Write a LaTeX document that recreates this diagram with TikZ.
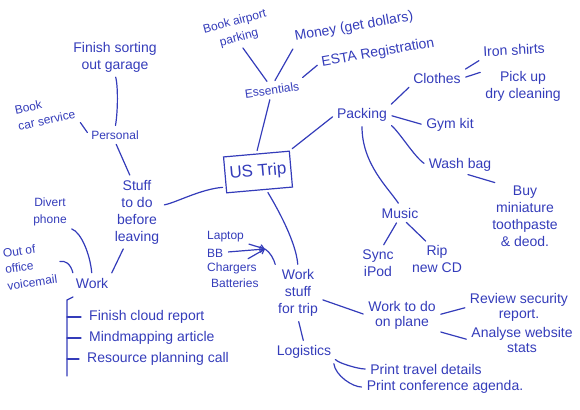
\documentclass[tikz,border=0pt]{standalone}
\usepackage{fontspec}
\setmainfont{Liberation Sans}
\usetikzlibrary{arrows.meta, positioning}
\definecolor{penna}{RGB}{52,60,186}

\begin{document}
\begin{tikzpicture}[
  x=1pt, y=-1pt,
  every node/.style={text=penna, inner sep=2pt, align=center},
  grande/.style={font=\fontsize{14}{17}\selectfont},
  stretto/.style={font=\fontsize{14}{15}\selectfont},
  medio/.style={font=\fontsize{12}{16.5}\selectfont},
  riquadro/.style={draw=penna, line width=1.2pt, minimum width=66pt, minimum height=36pt,
                   font=\fontsize{17}{20}\selectfont},
  ramo/.style={draw=penna, line width=1.2pt, line cap=round, shorten <=3pt, shorten >=3pt},
  freccia/.style={ramo, -{Straight Barb[length=4pt,width=6pt]}}
]
\useasboundingbox (0,0) rectangle (580,409);

\node[riquadro, rotate=5] (ustrip) at (258,172) {US Trip};

\node[medio, rotate=8]  (essentials)  at (272,90) {Essentials};
\node[medio, rotate=15] (bookparking) at (237,30) {Book airport\\parking};
\node[grande, rotate=10] (money)      at (354,27) {Money (get dollars)};
\node[grande, rotate=10] (esta)       at (378,53) {ESTA Registration};

\node[grande] (packing)   at (362,115) {Packing};
\node[grande] (clothes)   at (437,78)  {Clothes};
\node[grande, rotate=3] (ironshirts) at (514,50) {Iron shirts};
\node[grande] (pickup)    at (523,86)  {Pick up\\dry cleaning};
\node[grande] (gymkit)    at (450,125) {Gym kit};
\node[grande] (washbag)   at (460,165) {Wash bag};
\node[grande] (buy)       at (525,216) {Buy\\miniature\\toothpaste\\\& deod.};
\node[grande] (music)     at (400,213) {Music};
\node[grande] (sync)      at (378,263) {Sync\\iPod};
\node[grande] (rip)       at (437,259) {Rip\\new CD};

\node[grande] (stuff)     at (137,212) {Stuff\\to do\\before\\leaving};
\node[medio]  (personal)  at (115,135) {Personal};
\node[grande] (garage)    at (115,57)  {Finish sorting\\out garage};
\node[medio, rotate=12, align=left] (bookcar) at (45,112) {Book\\car service};
\node[grande] (work)      at (92,283)  {Work};
\node[medio]  (divert)    at (50,212)  {Divert\\phone};
\node[medio, rotate=8, align=left] (outofoffice) at (30,266) {Out of\\office\\voicemail};

\coordinate (parentesi) at (67,300);
\coordinate (parentesifondo) at (67,376);
\node[grande, anchor=west] (cloudreport)  at (87,317) {Finish cloud report};
\node[grande, anchor=west] (mindmapping)  at (87,338) {Mindmapping article};
\node[grande, anchor=west] (resourcecall) at (85,359) {Resource planning call};

\node[medio, anchor=west] (laptop)    at (205,237) {Laptop};
\node[medio, anchor=west] (bb)        at (205,253) {BB};
\node[medio, anchor=west] (chargers)  at (205,268) {Chargers};
\node[medio, anchor=west] (batteries) at (209,283) {Batteries};
\coordinate (punta) at (265,249);

\node[grande]  (workstuff)   at (298,293) {Work\\stuff\\for trip};
\node[grande]  (logistics)   at (304,352) {Logistics};
\node[stretto] (workplane)   at (402,315) {Work to do\\on plane};
\node[stretto] (review)      at (519,307) {Review security\\report.};
\node[stretto] (analyse)     at (522,340) {Analyse website\\stats};
\node[grande]  (printtravel) at (426,369) {Print travel details};
\node[grande]  (printconf)   at (445,387) {Print conference agenda.};

\draw[ramo] (ustrip.north) -- (essentials.250);
\draw[ramo] (essentials.110) -- (bookparking.south);
\draw[ramo] (essentials.70) -- (money.south west);
\draw[ramo] (essentials.north east) -- (esta.west);

\draw[ramo] (ustrip.north east) -- (packing.west);
\draw[ramo] (packing.north east) -- (clothes.south west);
\draw[ramo] (clothes.north east) -- (ironshirts.south west);
\draw[ramo] (clothes.east) -- (pickup.160);
\draw[ramo] (packing.east) -- (gymkit.west);
\draw[ramo] (packing.south east) .. controls +(10,8) and +(-12,-8) .. (washbag.west);
\draw[ramo] (washbag.300) -- (buy.130);
\draw[ramo] (packing.south) .. controls +(0,40) and +(-12,-18) .. (music.north);
\draw[ramo] (music.255) -- (sync.75);
\draw[ramo] (music.300) -- (rip.120);

\draw[ramo] (ustrip.200) .. controls +(-25,2) and +(15,-3) .. (stuff.15);
\draw[ramo] (stuff.100) -- (personal.south);
\draw[ramo] (personal.north) .. controls +(3,-18) and +(3,12) .. (garage.south);
\draw[ramo] (personal.west) -- (bookcar.south east);
\draw[ramo] (stuff.250) -- (work.north east);
\draw[ramo] (work.north) .. controls +(-2,-22) and +(12,4) .. (divert.south east);
\draw[ramo] (work.north west) .. controls +(-3,-12) and +(8,-2) .. (outofoffice.east);

\draw[ramo, shorten <=0pt, shorten >=0pt] ([shift={(6,-3)}]parentesi) -- (parentesi) -- (parentesifondo);
\foreach \riga in {cloudreport, mindmapping, resourcecall}
  \draw[ramo, shorten <=0pt, shorten >=6pt] (\riga.west -| parentesi) -- (\riga.west);

\foreach \da in {laptop, bb, chargers}
  \draw[freccia, shorten >=0pt] (\da) -- (punta);
\draw[ramo, shorten <=0pt] (punta) .. controls +(5,3) and +(-2,-8) .. (workstuff.north west);

\draw[ramo] (ustrip.290) .. controls +(12,20) and +(-2,-25) .. (workstuff.north);
\draw[ramo] (workstuff.south) -- (logistics.north);
\draw[ramo] (workstuff.-15) -- (workplane.west);
\draw[ramo] (workplane.east) -- (review.west);
\draw[ramo] (workplane.south east) -- (analyse.west);
\draw[ramo] (logistics.-10) .. controls +(5,6) and +(-10,0) .. (printtravel.west);
\draw[ramo] (logistics.south east) .. controls +(2,15) and +(-12,0) .. (printconf.west);

\end{tikzpicture}
\end{document}
